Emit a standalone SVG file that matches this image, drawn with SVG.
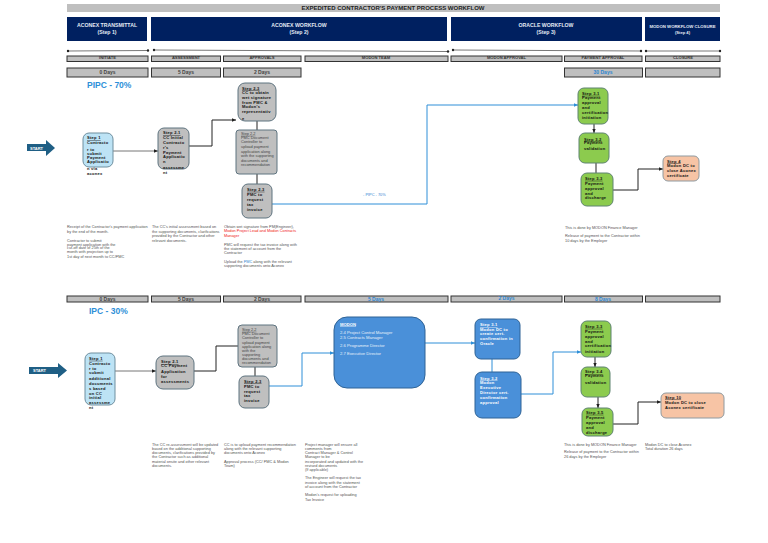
<svg xmlns="http://www.w3.org/2000/svg" width="768" height="543" viewBox="0 0 768 543">
<style>
text{font-family:"Liberation Sans",Arial,sans-serif}
.hd{fill:#002060}
.hdt{fill:#E4EAF4;font-size:5.2px;font-weight:bold;text-anchor:middle}
.bar{fill:#BFBFBF;stroke:#333;stroke-width:1}
.bl{font-size:4.1px;font-weight:bold;fill:#333;text-anchor:middle}
.dy{font-size:5px;font-weight:bold;fill:#444;text-anchor:middle}
.dyb{font-size:5px;font-weight:bold;fill:#2E86D1;text-anchor:middle}
.n{stroke-width:1}
.lb{fill:#BDE3F5;stroke:#6f8f9f}
.gy{fill:#BFBFBF;stroke:#5f7480}
.gr{fill:#8CCB4E;stroke:#5f8470}
.pk{fill:#F7C4A5;stroke:#8f9aa0}
.bu{fill:#4A90D9;stroke:#2F6396}
.t{font-size:4.05px;font-weight:bold;letter-spacing:.25px;fill:#111}
.g{font-size:3.9px;fill:#444}
.w{font-size:4.05px;font-weight:bold;letter-spacing:.25px;fill:#fff}
.u{text-decoration:underline}
.d{font-size:3.85px;fill:#555}
.red{fill:#F02020}
.blu{fill:#2E86D1}
.pc{font-size:8.5px;font-weight:bold;fill:#2E8FD8}
.st{fill:#1F5F85}
.stt{font-size:4px;font-weight:bold;fill:#fff}
.k{fill:none;stroke:#222;stroke-width:1}
.c{fill:none;stroke:#2E8FD8;stroke-width:1}
.sp{stroke:#555;stroke-width:.8;marker-start:url(#dot);marker-end:url(#dot)}
</style>
<defs>
<marker id="ak" markerWidth="5" markerHeight="5" refX="4" refY="2.5" orient="auto" markerUnits="userSpaceOnUse"><path d="M0 .8L4 2.5L0 4.2Z" fill="#222"/></marker>
<marker id="ab" markerWidth="5" markerHeight="5" refX="4" refY="2.5" orient="auto" markerUnits="userSpaceOnUse"><path d="M0 .8L4 2.5L0 4.2Z" fill="#2E8FD8"/></marker>
<marker id="dot" markerWidth="4" markerHeight="4" refX="2" refY="2" orient="auto" markerUnits="userSpaceOnUse"><circle cx="2" cy="2" r="1.2" fill="#222"/></marker>
</defs>

<g id="header">
<rect x="67" y="4" width="653" height="8" fill="#BFBFBF"/>
<text x="393" y="10" font-size="6" font-weight="bold" fill="#222" text-anchor="middle">EXPEDITED CONTRACTOR'S PAYMENT PROCESS WORKFLOW</text>
<rect class="hd" x="67" y="17" width="80" height="24"/>
<text class="hdt" x="107" y="27">ACONEX TRANSMITTAL</text><text class="hdt" x="107" y="33.5">(Step 1)</text>
<rect class="hd" x="151" y="17" width="296" height="24"/>
<text class="hdt" x="299" y="27">ACONEX WORKFLOW</text><text class="hdt" x="299" y="33.5">(Step 2)</text>
<rect class="hd" x="451" y="17" width="191" height="24"/>
<text class="hdt" x="546" y="27">ORACLE WORKFLOW</text><text class="hdt" x="546" y="33.5">(Step 3)</text>
<rect class="hd" x="645" y="17" width="75" height="24"/>
<text class="hdt" x="682.5" y="28" style="font-size:4.3px">MODON WORKFLOW CLOSURE</text><text class="hdt" x="682.5" y="33.5" style="font-size:4.1px">(Step 4)</text>
</g>

<g id="spans">
<line class="sp" x1="68" y1="51" x2="148" y2="50.5"/>
<line class="sp" x1="154" y1="50" x2="448" y2="51.5"/>
<line class="sp" x1="453" y1="50" x2="641" y2="51"/>
<line class="sp" x1="646" y1="51" x2="720" y2="51"/>
</g>

<g id="phases">
<rect class="bar" x="67" y="56" width="81" height="5.5"/><text class="bl" x="107.5" y="59">INITIATE</text>
<rect class="bar" x="151.5" y="56" width="69" height="5.5"/><text class="bl" x="186" y="59">ASSESSMENT</text>
<rect class="bar" x="223.5" y="56" width="77.5" height="5.5"/><text class="bl" x="262" y="59">APPROVALS</text>
<rect class="bar" x="305" y="56" width="143" height="5.5"/><text class="bl" x="376" y="59">MODON TEAM</text>
<rect class="bar" x="451" y="56" width="111" height="5.5"/><text class="bl" x="506.5" y="59">MODON APPROVAL</text>
<rect class="bar" x="564.5" y="56" width="77.5" height="5.5"/><text class="bl" x="603" y="59">PAYMENT APPROVAL</text>
<rect class="bar" x="645.5" y="56" width="74.5" height="5.5"/><text class="bl" x="683" y="59">CLOSURE</text>
</g>

<g id="days-top">
<rect class="bar" x="67" y="68" width="81" height="9"/><text class="dy" x="107.5" y="74">0 Days</text>
<rect class="bar" x="151.5" y="68" width="69" height="9"/><text class="dy" x="186" y="74">5 Days</text>
<rect class="bar" x="223.5" y="68" width="77.5" height="9"/><text class="dy" x="262" y="74">2 Days</text>
<rect class="bar" x="564.5" y="68" width="78" height="9"/><text class="dyb" x="603" y="74">30 Days</text>
<rect class="bar" x="645.5" y="68" width="74.5" height="9"/>
</g>

<g id="days-bottom">
<rect class="bar" x="67" y="296" width="81" height="6"/><text class="dy" x="107.5" y="301">0 Days</text>
<rect class="bar" x="151.5" y="296" width="69" height="6"/><text class="dy" x="186" y="301">5 Days</text>
<rect class="bar" x="223.5" y="296" width="77.5" height="6"/><text class="dy" x="262" y="301">2 Days</text>
<rect class="bar" x="305" y="296" width="143" height="6"/><text class="dyb" x="376" y="301">5 Days</text>
<rect class="bar" x="451" y="296" width="111" height="6"/><text class="dyb" x="506.5" y="300">2 Days</text>
<rect class="bar" x="564.5" y="296" width="78" height="6"/><text class="dyb" x="603" y="301">8 Days</text>
<rect class="bar" x="645.5" y="296" width="74.5" height="6"/>
</g>

<text class="pc" x="87" y="88">PIPC - 70%</text>
<text class="pc" x="89" y="314">IPC - 30%</text>

<g id="connectors">
<path class="k" style="stroke:#777" d="M113 151H158" marker-end="url(#ak)"/>
<path class="k" d="M189 146H212V120H236" marker-end="url(#ak)"/>
<path class="k" d="M257 121V130"/>
<path class="k" d="M257 174V184"/>
<path class="c" d="M272 204H427V105H578" marker-end="url(#ab)"/>
<path class="k" d="M594 124V133" marker-end="url(#ak)"/>
<path class="k" d="M596 163V173"/>
<path class="k" d="M613 190H638V169H663" marker-end="url(#ak)"/>
<path class="k" style="stroke:#777" d="M115 371H156" marker-end="url(#ak)"/>
<path class="k" d="M194 371H216V346H238"/>
<path class="k" d="M255 367V376"/>
<path class="c" d="M269 386H302V353H334" marker-end="url(#ab)"/>
<path class="c" d="M425 343H475" marker-end="url(#ab)"/>
<path class="c" d="M492 359V372"/>
<path class="c" d="M521 394H553V352H581" marker-end="url(#ab)"/>
<path class="k" d="M595 357V367" marker-end="url(#ak)"/>
<path class="k" d="M598 397V408" marker-end="url(#ak)"/>
<path class="k" d="M613 424H638V402H661" marker-end="url(#ak)"/>
</g>
<text x="363" y="196" font-size="3.9" fill="#2E86D1">- PIPC - 70%</text>

<g id="start-1"><path class="st" d="M27 144H46V140L55 148L46 156V151H27Z"/><text class="stt" x="30" y="149.5">START</text></g>
<g id="start-2"><path class="st" d="M29 367H58V363L67 370.500L58 378V374H29Z"/><text class="stt" x="33" y="372">START</text></g>

<g id="p1-step1"><rect class="n lb" x="83" y="133" width="30" height="34" rx="6"/>
<text class="t"><tspan class="u" x="87" y="139.200">Step 1</tspan><tspan x="87" y="144.200">Contracto</tspan><tspan x="87" y="150.500">r to</tspan><tspan x="87" y="154.800">submit</tspan><tspan x="87" y="158.800">Payment</tspan><tspan x="87" y="163.200">Applicatio</tspan><tspan x="87" y="169.800">n via</tspan><tspan x="87" y="174.800">aconex</tspan></text></g>

<g id="p1-step21"><rect class="n gy" x="158" y="128" width="31" height="41" rx="6"/>
<text class="t"><tspan class="u" x="163" y="134.200">Step 2.1</tspan><tspan x="163" y="138.800">CC Initial</tspan><tspan x="163" y="143.800">Contracto</tspan><tspan x="163" y="149.200">r's</tspan><tspan x="163" y="153.800">Payment</tspan><tspan x="163" y="158.200">Applicatio</tspan><tspan x="163" y="162.500">n</tspan><tspan x="163" y="168.800">assessme</tspan><tspan x="163" y="174.200">nt</tspan></text></g>

<g id="p1-step22"><rect class="n gy" x="238" y="83" width="38" height="38" rx="7"/>
<text class="t"><tspan class="u" x="242" y="89.500">Step 2.3</tspan><tspan x="242" y="94.200">CC to obtain</tspan><tspan x="242" y="98.800">wet signature</tspan><tspan x="242" y="103.500">from PMC &amp;</tspan><tspan x="242" y="108.200">Modon's</tspan><tspan x="242" y="113.200">representativ</tspan><tspan x="242" y="119.500">e</tspan></text></g>

<g id="p1-step2m"><rect class="n gy" x="236" y="130" width="41" height="44" rx="3"/>
<text class="g"><tspan class="u" x="241" y="134.800">Step 2.2</tspan><tspan x="241" y="138.800">PMC Document</tspan><tspan x="241" y="143.200">Controller to</tspan><tspan x="241" y="148.200">upload payment</tspan><tspan x="241" y="152.500">application along</tspan><tspan x="241" y="156.800">with the supporting</tspan><tspan x="241" y="161.500">documents and</tspan><tspan x="241" y="165.800">recommendation</tspan></text></g>

<g id="p1-step23"><rect class="n gy" x="242" y="184" width="30" height="34" rx="6"/>
<text class="t"><tspan class="u" x="247" y="190.800">Step 2.3</tspan><tspan x="247" y="195.500">PMC to</tspan><tspan x="247" y="200.800">request</tspan><tspan x="247" y="205.500">tax</tspan><tspan x="247" y="210.500">invoice</tspan></text></g>

<g id="p1-step31"><rect class="n gr" x="578" y="88" width="30" height="36" rx="6"/>
<text class="t"><tspan class="u" x="582" y="94.800">Step 3.1</tspan><tspan x="582" y="99.200">Payment</tspan><tspan x="582" y="104.200">approval</tspan><tspan x="582" y="108.800">and</tspan><tspan x="582" y="113.800">certification</tspan><tspan x="582" y="119.200">initiation</tspan></text></g>

<g id="p1-step32"><rect class="n gr" x="579" y="133" width="30" height="30" rx="6"/>
<text class="t"><tspan class="u" x="584" y="140.500">Step 3.2</tspan><tspan x="584" y="144.200">Payment</tspan><tspan x="584" y="149.800">validation</tspan></text></g>

<g id="p1-step33"><rect class="n gr" x="581" y="173" width="32" height="33" rx="6"/>
<text class="t"><tspan class="u" x="585" y="179.800">Step 3.3</tspan><tspan x="585" y="184.800">Payment</tspan><tspan x="585" y="189.800">approval</tspan><tspan x="585" y="194.500">and</tspan><tspan x="585" y="199.200">discharge</tspan></text></g>

<g id="p1-step4"><rect class="n pk" x="663" y="156" width="36" height="25" rx="5"/>
<text class="t"><tspan class="u" x="667" y="162.500">Step 4</tspan><tspan x="667" y="166.500">Modon DC to</tspan><tspan x="667" y="171.500">close Aconex</tspan><tspan x="667" y="176.500">certificate</tspan></text></g>

<g id="p2-step1"><rect class="n lb" x="85" y="353" width="30" height="52" rx="6"/>
<text class="t"><tspan class="u" x="89" y="359.800">Step 1</tspan><tspan x="89" y="364.800">Contracto</tspan><tspan x="89" y="369.500">r to</tspan><tspan x="89" y="374.200">submit</tspan><tspan x="89" y="379.500">additional</tspan><tspan x="89" y="385.200">documents</tspan><tspan x="89" y="389.800">s based</tspan><tspan x="89" y="394.500">on CC</tspan><tspan x="89" y="398.800">initial</tspan><tspan x="89" y="404.200">assessme</tspan><tspan x="89" y="408.800">nt</tspan></text></g>

<g id="p2-step21"><rect class="n gy" x="156" y="356" width="38" height="33" rx="7"/>
<text class="t"><tspan class="u" x="161" y="363.200">Step 2.1</tspan><tspan x="161" y="367.200">CC Payment</tspan><tspan x="161" y="372.500">Application</tspan><tspan x="161" y="377.500">for</tspan><tspan x="161" y="382.500">assessments</tspan></text></g>

<g id="p2-step22"><rect class="n gy" x="238" y="325" width="39" height="42" rx="4"/>
<text class="g"><tspan class="u" x="242" y="330.800">Step 2.2</tspan><tspan x="242" y="334.800">PMC Document</tspan><tspan x="242" y="339.200">Controller to</tspan><tspan x="242" y="343.500">upload payment</tspan><tspan x="242" y="348.200">application along</tspan><tspan x="242" y="352.200">with the</tspan><tspan x="242" y="356.200">supporting</tspan><tspan x="242" y="360.200">documents and</tspan><tspan x="242" y="364.200">recommendation</tspan></text></g>

<g id="p2-step23"><rect class="n gy" x="239" y="376" width="30" height="32" rx="6"/>
<text class="t"><tspan class="u" x="244" y="382.500">Step 2.3</tspan><tspan x="244" y="387.500">PMC to</tspan><tspan x="244" y="392.500">request</tspan><tspan x="244" y="397.200">tax</tspan><tspan x="244" y="401.800">invoice</tspan></text></g>

<g id="p2-modon"><rect class="n bu" x="334" y="317" width="91" height="71" rx="13"/>
<text style="font-size:4.200px;fill:#E8F1FA"><tspan class="u" x="340" y="325.500" fill="#fff" font-weight="bold">MODON</tspan><tspan x="340" y="333.500">2.4 Project Control Manager</tspan><tspan x="340" y="338.500">2.5 Contracts Manager</tspan><tspan x="340" y="346.500">2.6 Programme Director</tspan><tspan x="340" y="354.500">2.7 Executive Director</tspan></text></g>

<g id="p2-step31"><rect class="n bu" x="475" y="319" width="45" height="40" rx="6"/>
<text class="w"><tspan class="u" x="480" y="326.200">Step 3.1</tspan><tspan x="480" y="330.800">Modon DC to</tspan><tspan x="480" y="335.200">create cert.</tspan><tspan x="480" y="340.200">confirmation in</tspan><tspan x="480" y="344.800">Oracle</tspan></text></g>

<g id="p2-step32"><rect class="n bu" x="475" y="372" width="46" height="46" rx="7"/>
<text class="w"><tspan class="u" x="480" y="379.500">Step 3.2</tspan><tspan x="480" y="383.500">Modon</tspan><tspan x="480" y="388.500">Executive</tspan><tspan x="480" y="393.500">Director cert.</tspan><tspan x="480" y="398.800">confirmation</tspan><tspan x="480" y="403.800">approval</tspan></text></g>

<g id="p2-step33"><rect class="n gr" x="581" y="321" width="30" height="36" rx="6"/>
<text class="t"><tspan class="u" x="585" y="327.800">Step 3.3</tspan><tspan x="585" y="332.800">Payment</tspan><tspan x="585" y="337.800">approval</tspan><tspan x="585" y="342.500">and</tspan><tspan x="585" y="347.200">certification</tspan><tspan x="585" y="352.500">initiation</tspan></text></g>

<g id="p2-step34"><rect class="n gr" x="581" y="367" width="29" height="30" rx="6"/>
<text class="t"><tspan class="u" x="585" y="373.200">Step 3.4</tspan><tspan x="585" y="377.200">Payment</tspan><tspan x="585" y="383.500">validation</tspan></text></g>

<g id="p2-step35"><rect class="n gr" x="582" y="408" width="31" height="28" rx="6"/>
<text class="t"><tspan class="u" x="586" y="413.800">Step 3.5</tspan><tspan x="586" y="418.800">Payment</tspan><tspan x="586" y="423.800">approval</tspan><tspan x="586" y="428.500">and</tspan><tspan x="586" y="434.200">discharge</tspan></text></g>

<g id="p2-step10"><rect class="n pk" x="661" y="393" width="63" height="25" rx="5"/>
<text class="t"><tspan class="u" x="665" y="398.500">Step 10</tspan><tspan x="665" y="403.800">Modon DC to close</tspan><tspan x="665" y="408.800">Aconex certificate</tspan></text></g>

<g id="notes">
<text class="d"><tspan x="67" y="228">Receipt of the Contractor's payment application</tspan><tspan x="67" y="232.800">by the end of the month.</tspan><tspan x="67" y="241.500">Contractor to submit</tspan><tspan x="67" y="245.500">payment application with the</tspan><tspan x="67" y="249">cut-off date of 25th of the</tspan><tspan x="67" y="253">month with projection up to</tspan><tspan x="67" y="257.500">1st day of next month to CC/PMC</tspan></text>
<text class="d"><tspan x="152" y="228">The CC's initial assessment based on</tspan><tspan x="152" y="232.500">the supporting documents, clarifications</tspan><tspan x="152" y="236.500">provided by the Contractor and other</tspan><tspan x="152" y="241.500">relevant documents.</tspan></text>
<text class="d"><tspan x="224" y="228">Obtain wet signature from PM(Engineer),</tspan><tspan class="red" x="224" y="232">Modon Project Lead and Modon Contracts</tspan><tspan class="red" x="224" y="236.500">Manager</tspan><tspan x="224" y="245.500">PMC will request the tax invoice along with</tspan><tspan x="224" y="249.500">the statement of account from the</tspan><tspan x="224" y="253.500">Contractor</tspan><tspan x="224" y="262.500">Upload the </tspan><tspan class="blu">PMC</tspan><tspan> along with the relevant</tspan><tspan x="224" y="266.500">supporting documents onto Aconex</tspan></text>
<text class="d"><tspan x="565" y="228.500">This is done by MODON Finance Manager</tspan><tspan x="565" y="236.500">Release of payment to the Contractor within</tspan><tspan x="565" y="241.500">10 days by the Employer</tspan></text>
<text class="d"><tspan x="152" y="445.500">The CC re-assessment will be updated</tspan><tspan x="152" y="449.500">based on the additional supporting</tspan><tspan x="152" y="453.500">documents, clarifications provided by</tspan><tspan x="152" y="457.500">the Contractor such as additional</tspan><tspan x="152" y="462.500">material onsite and other relevant</tspan><tspan x="152" y="466.500">documents.</tspan></text>
<text class="d"><tspan x="224" y="445.500">CC is to upload payment recommendation</tspan><tspan x="224" y="449.500">along with the relevant supporting</tspan><tspan x="224" y="453.500">documents onto Aconex</tspan><tspan x="224" y="462.500">Approval process (CC/ PMC &amp; Modon</tspan><tspan x="224" y="466.500">Team)</tspan></text>
<text class="d"><tspan x="305" y="445.500">Project manager will ensure all</tspan><tspan x="305" y="449.500">comments from</tspan><tspan x="305" y="453.500">Contract Manager &amp; Control</tspan><tspan x="305" y="457.500">Manager to be</tspan><tspan x="305" y="462.500">incorporated and updated with the</tspan><tspan x="305" y="466.500">revised documents</tspan><tspan x="305" y="470.500">(If applicable)</tspan><tspan x="305" y="478.500">The Engineer will request the tax</tspan><tspan x="305" y="483.500">invoice along with the statement</tspan><tspan x="305" y="487.500">of account from the Contractor</tspan><tspan x="305" y="495.500">Modon's request for uploading</tspan><tspan x="305" y="500.500">Tax Invoice</tspan></text>
<text class="d"><tspan x="564" y="445.500">This is done by MODON Finance Manager</tspan><tspan x="564" y="452.500">Release of payment to the Contractor within</tspan><tspan x="564" y="457.500">26 days by the Employer</tspan></text>
<text class="d"><tspan x="645" y="445.500">Modon DC to close Aconex</tspan><tspan x="645" y="449.500">Total duration 26 days</tspan></text>
</g>
</svg>
